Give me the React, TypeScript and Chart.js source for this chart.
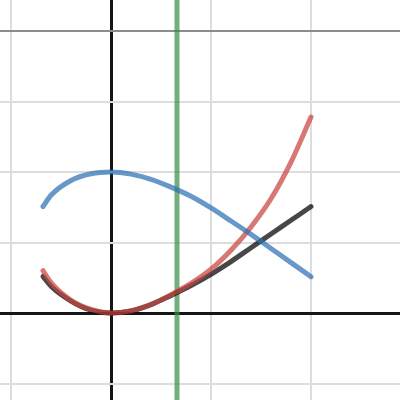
import Chart from 'chart.js/auto';
import { useEffect, useRef } from 'react';

// sample positions along x (shared by the three curves)
const xs = [-0.68, -0.6, -0.4, -0.2, 0, 0.2, 0.4, 0.6, 0.8, 1.0, 1.2, 1.4, 1.6, 1.8, 2.0];
const blueY = [1.51, 1.67, 1.88, 1.975, 2.0, 1.97, 1.895, 1.785, 1.655, 1.49, 1.305, 1.115, 0.915, 0.715, 0.515];
const redY = [0.6, 0.43, 0.18, 0.05, 0, 0.03, 0.12, 0.26, 0.42, 0.62, 0.89, 1.22, 1.62, 2.14, 2.78];
const blackY = [0.52, 0.38, 0.17, 0.04, 0, 0.03, 0.12, 0.25, 0.39, 0.55, 0.73, 0.925, 1.12, 1.315, 1.51];

const greenX = 0.66;
const grayY = 4;

const xTicks = [-1, 0, 1, 2];
const yTicks = [-1, 0, 1, 2, 3, 4];

const X_MIN = -1.11;
const X_MAX = 2.89;
const Y_MIN = -1.234;
const Y_MAX = 4.44;

const toPoints = (ys: number[]) => xs.map((x, i) => ({ x, y: ys[i] }));

const App = () => {
  const chartRef = useRef<HTMLCanvasElement | null>(null);

  useEffect(() => {
    document.body.style.margin = '0';
    if (!chartRef.current) return;
    const ctx = chartRef.current.getContext('2d');
    if (!ctx) return;

    const curve = {
      showLine: true,
      pointRadius: 0,
      borderWidth: 5,
      cubicInterpolationMode: 'monotone' as const,
      borderCapStyle: 'round' as const,
      borderJoinStyle: 'round' as const,
    };

    const gridColor = (c: any) => (c.tick && c.tick.value === 0 ? '#151515' : '#dddddd');
    const gridWidth = (c: any) => (c.tick && c.tick.value === 0 ? 3 : 2);

    const chartInstance = new Chart(ctx, {
      type: 'scatter',
      data: {
        datasets: [
          { ...curve, label: 'blue', data: toPoints(blueY), borderColor: 'rgba(45,112,179,0.72)' },
          { ...curve, label: 'red', data: toPoints(redY), borderColor: 'rgba(199,68,64,0.72)' },
          { ...curve, label: 'black', data: toPoints(blackY), borderColor: 'rgba(0,0,0,0.72)' },
          {
            ...curve,
            cubicInterpolationMode: 'default' as const,
            tension: 0,
            label: 'green',
            data: [
              { x: greenX, y: Y_MIN - 1 },
              { x: greenX, y: Y_MAX + 1 },
            ],
            borderColor: 'rgba(56,140,70,0.7)',
          },
          {
            ...curve,
            cubicInterpolationMode: 'default' as const,
            tension: 0,
            borderWidth: 2,
            label: 'gray',
            data: [
              { x: X_MIN - 1, y: grayY },
              { x: X_MAX + 1, y: grayY },
            ],
            borderColor: '#8c8c8c',
          },
        ],
      },
      options: {
        responsive: false,
        animation: false,
        layout: { padding: 0 },
        plugins: {
          legend: { display: false },
          tooltip: { enabled: false },
        },
        scales: {
          x: {
            type: 'linear',
            min: X_MIN,
            max: X_MAX,
            afterBuildTicks: (scale: any) => {
              scale.ticks = xTicks.map((value) => ({ value }));
            },
            ticks: { display: false },
            border: { display: false },
            grid: { drawTicks: false, color: gridColor, lineWidth: gridWidth },
          },
          y: {
            type: 'linear',
            min: Y_MIN,
            max: Y_MAX,
            afterBuildTicks: (scale: any) => {
              scale.ticks = yTicks.map((value) => ({ value }));
            },
            ticks: { display: false },
            border: { display: false },
            grid: { drawTicks: false, color: gridColor, lineWidth: gridWidth },
          },
        },
      },
    });

    return () => {
      chartInstance.destroy();
    };
  }, []);

  return (
    <div style={{ width: 400, height: 400, background: '#ffffff' }}>
      <canvas ref={chartRef} width={400} height={400}></canvas>
    </div>
  );
};

export default App;
